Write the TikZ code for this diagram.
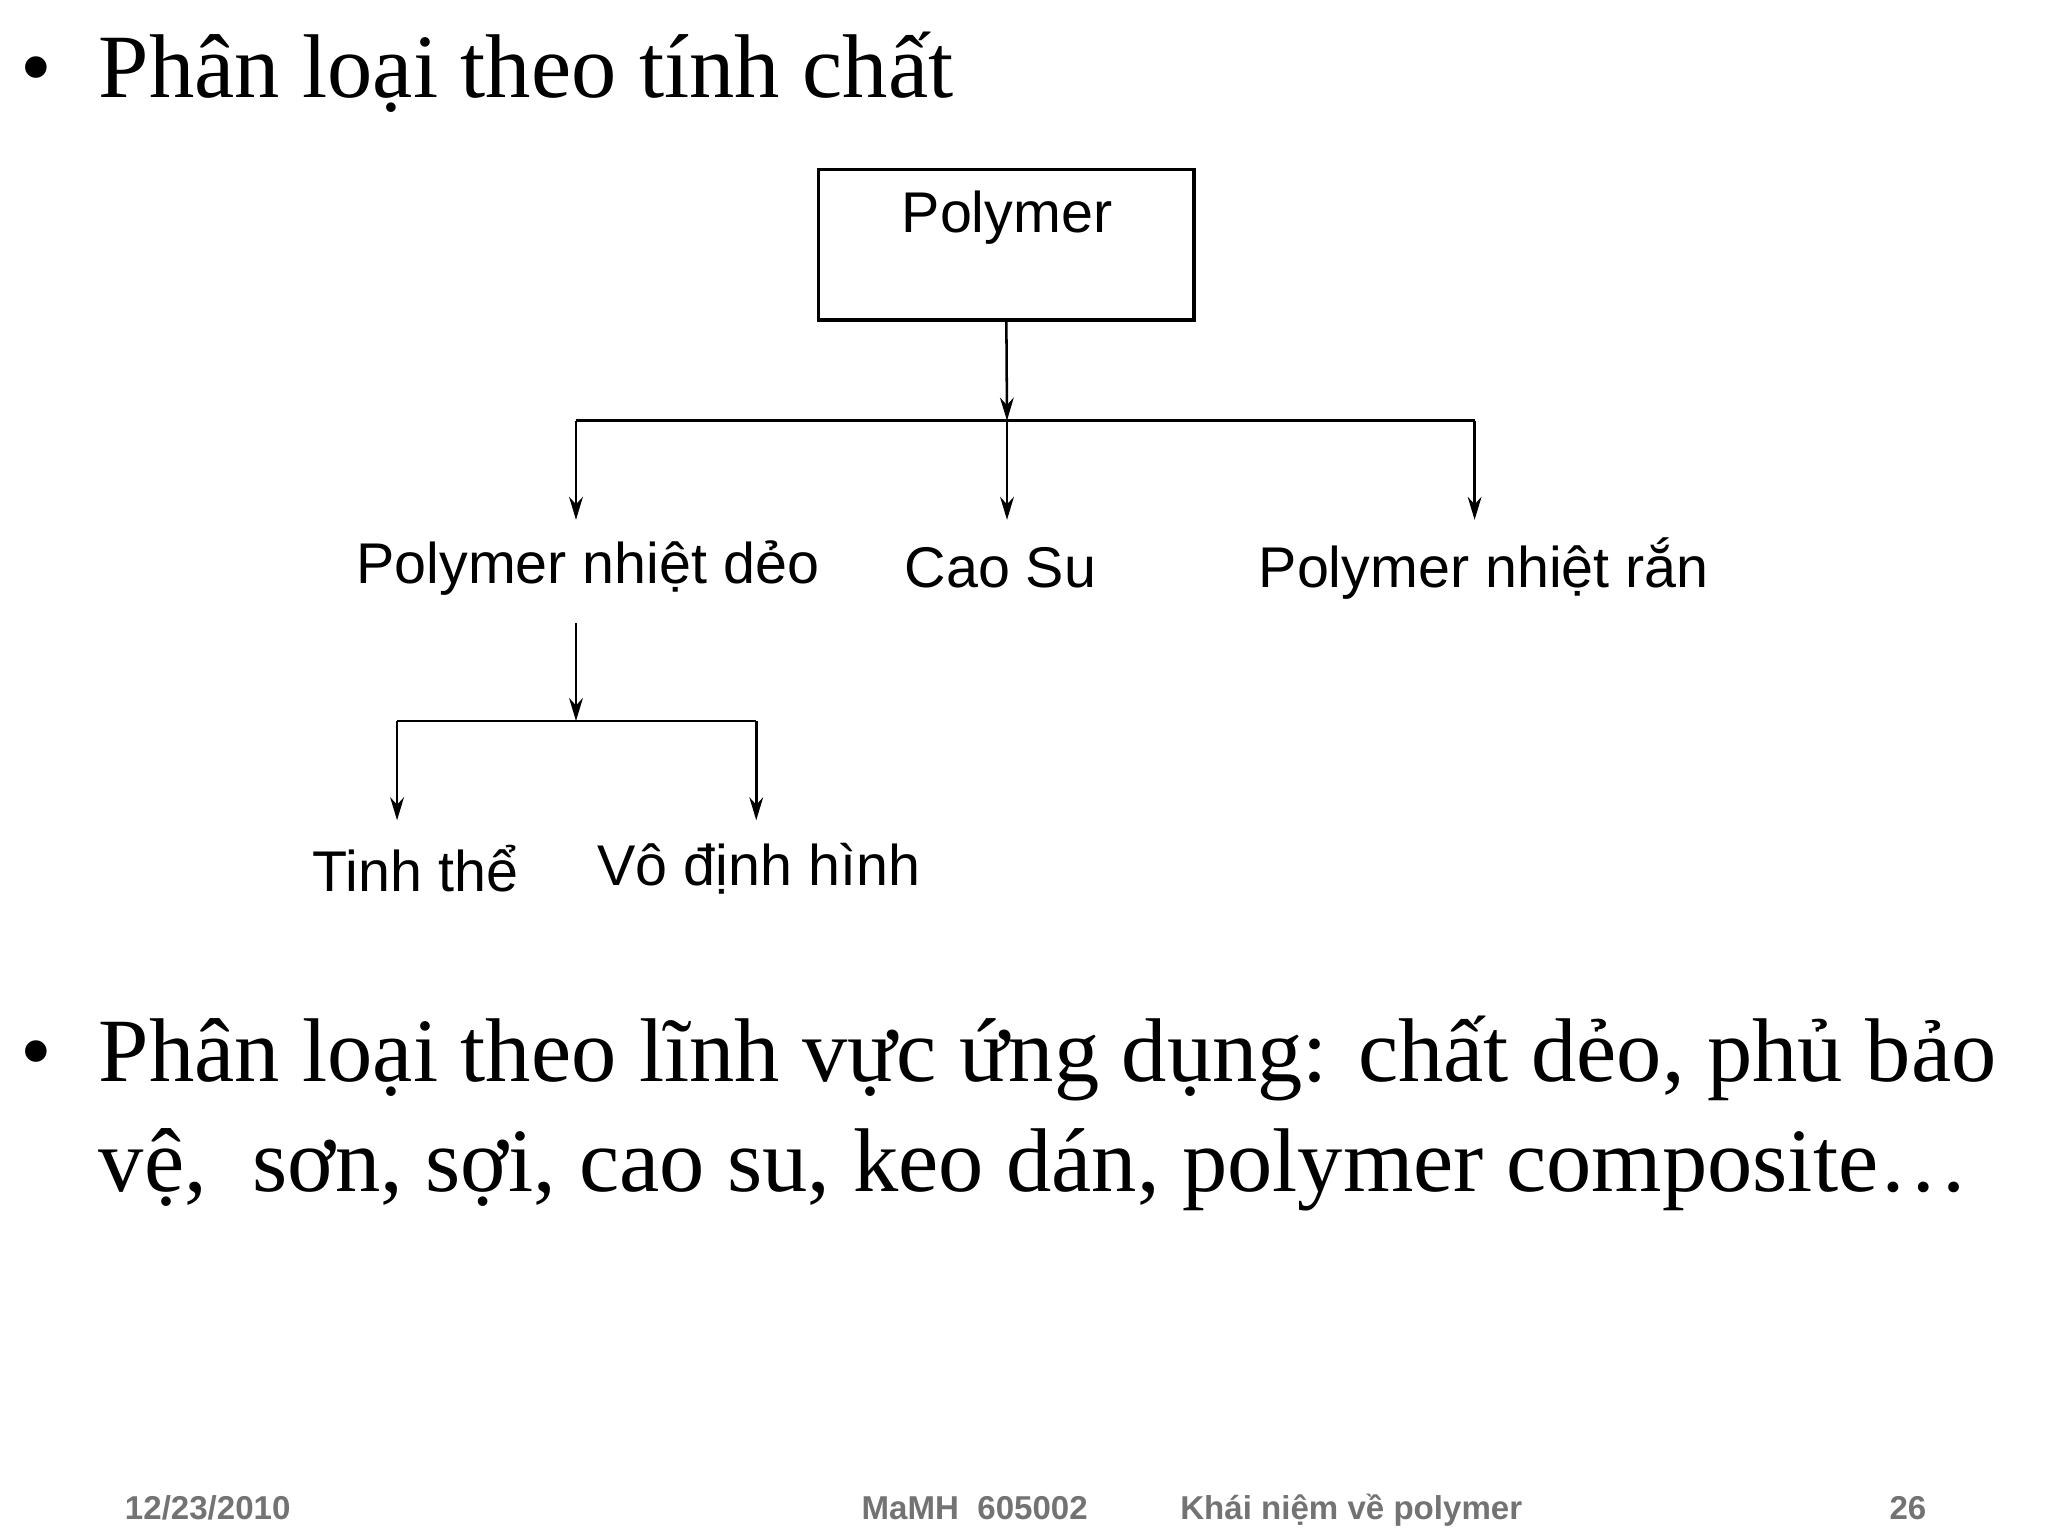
\documentclass[tikz,border=0pt]{standalone}
\usepackage{fontspec}
\setmainfont{Liberation Serif}
\newfontfamily\arialf{Liberation Sans}
\usetikzlibrary{arrows.meta}
\begin{document}
\begin{tikzpicture}[x=0.01cm,y=-0.01cm,
  lbl/.style={font=\arialf\fontsize{12.5}{15}\selectfont,inner sep=0pt},
  big/.style={font=\fontsize{19.7}{24}\selectfont,inner sep=0pt,anchor=base west},
  foot/.style={font=\arialf\bfseries\fontsize{7.2}{9}\selectfont,text=black!55,inner sep=0pt,anchor=base west},
  arr/.style={-{Stealth[length=5pt,width=3pt]},line width=0.55pt},
  ln/.style={line width=0.55pt}]
\useasboundingbox (0,0) rectangle (1568,1176);
\node[big] (b1) at (15,75) {•};
\node[big] (t1) at (75,75) {Phân loại theo tính chất};
\node[draw,line width=0.7pt,minimum width=2.87cm,minimum height=1.15cm,inner sep=0pt] (box) at (770.5,187.5) {};
\node[lbl] (poly) at (771,167) {Polymer};
\coordinate (j1) at (771,322);
\coordinate (hl) at (441,322);
\coordinate (hr) at (1129,322);
\coordinate (al) at (441,398);
\coordinate (am) at (771,398);
\coordinate (ar) at (1129,398);
\draw[arr] (box.south) -- (j1);
\draw[ln] (hl) -- (hr);
\draw[arr] (hl) -- (al);
\draw[arr] (j1) -- (am);
\draw[arr] (hr) -- (ar);
\node[lbl] (pnd) at (450,435) {Polymer nhiệt dẻo};
\node[lbl] (cs) at (766,435) {Cao Su};
\node[lbl] (pnr) at (1136,435) {Polymer nhiệt rắn};
\coordinate (s1) at (441,477);
\coordinate (j2) at (441,552);
\coordinate (gl) at (304,552);
\coordinate (gr) at (579,552);
\coordinate (bl) at (304,628);
\coordinate (br) at (579,628);
\draw[arr] (s1) -- (j2);
\draw[ln] (gl) -- (gr);
\draw[arr] (gl) -- (bl);
\draw[arr] (gr) -- (br);
\node[lbl] (tt) at (318,665) {Tinh thể};
\node[lbl] (vdh) at (581,665) {Vô định hình};
\node[big] (b2) at (15,828) {•};
\node[big] (t2) at (75,828) {Phân loại theo lĩnh vực ứng dụng: chất dẻo, phủ bảo};
\node[big] (t3) at (75,912) {vệ,\ \ sơn, sợi, cao su, keo dán, polymer composite…};
\node[foot] (f1) at (95,1163) {12/23/2010};
\node[foot] (f2) at (659,1163) {MaMH\ \ 605002};
\node[foot] (f3) at (903,1163) {Khái niệm về polymer};
\node[foot] (f4) at (1446,1163) {26};
\end{tikzpicture}
\end{document}
